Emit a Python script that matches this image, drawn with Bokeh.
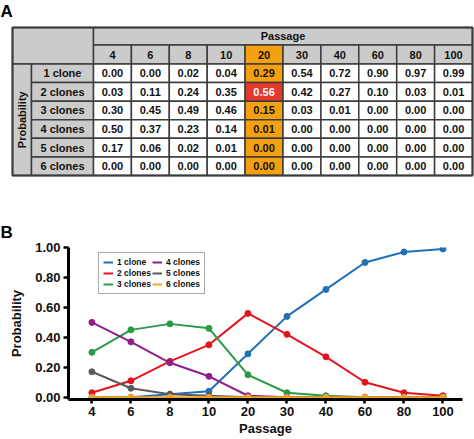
import math
from bokeh.plotting import figure
from bokeh.layouts import column, row
from bokeh.models import Range1d, FixedTicker, Legend, LegendItem, NumeralTickFormatter
from bokeh.core.properties import value
from bokeh.embed import file_html
from bokeh.resources import INLINE

# ---------------- data ----------------
passages = [4, 6, 8, 10, 20, 30, 40, 60, 80, 100]
series_names = ["1 clone", "2 clones", "3 clones", "4 clones", "5 clones", "6 clones"]
clone1 = [0.00, 0.00, 0.02, 0.04, 0.29, 0.54, 0.72, 0.90, 0.97, 0.99]
clone2 = [0.03, 0.11, 0.24, 0.35, 0.56, 0.42, 0.27, 0.10, 0.03, 0.01]
clone3 = [0.30, 0.45, 0.49, 0.46, 0.15, 0.03, 0.01, 0.00, 0.00, 0.00]
clone4 = [0.50, 0.37, 0.23, 0.14, 0.01, 0.00, 0.00, 0.00, 0.00, 0.00]
clone5 = [0.17, 0.06, 0.02, 0.01, 0.00, 0.00, 0.00, 0.00, 0.00, 0.00]
clone6 = [0.00, 0.00, 0.00, 0.00, 0.00, 0.00, 0.00, 0.00, 0.00, 0.00]
series_values = [clone1, clone2, clone3, clone4, clone5, clone6]
series_colors = ["#1f70b4", "#e3141d", "#2a9a47", "#8e1e8c", "#5a5a5a", "#f0a22a"]
highlight_passage = 20
max_row = "2 clones"
y_ticks = [0.0, 0.2, 0.4, 0.6, 0.8, 1.0]

FONT = value("Liberation Sans")
GRAY = "#cbcbcb"
ORANGE = "#f5a00f"
RED = "#e5392d"
BORDER = "#3c3c3c"
TXT = "#111111"

# ---------------- panel A: table ----------------
W, HT = 474, 240
t = figure(width=W, height=HT, x_range=Range1d(0, W), y_range=Range1d(HT, 0),
           output_backend="svg", toolbar_location=None, min_border=0,
           x_axis_location=None, y_axis_location=None)
t.grid.visible = False
t.outline_line_color = None

TL, PC, LC, RC = 12.0, 31.0, 93.0, 472.0
TOP, H1, H2, BOT = 27.0, 44.5, 63.5, 175.0
ncol = len(passages)
nrow = len(series_names)
cw = (RC - LC) / ncol
rh = (BOT - H2) / nrow

L, R, Tp, Bt, F = [], [], [], [], []
def cell(l, r, tp, bt, f):
    L.append(l); R.append(r); Tp.append(tp); Bt.append(bt); F.append(f)

cell(TL, LC, TOP, H2, GRAY)
cell(LC, RC, TOP, H1, GRAY)
cell(TL, PC, H2, BOT, GRAY)
tx, ty, tt, tc = [], [], [], []
for i, p in enumerate(passages):
    cell(LC + i * cw, LC + (i + 1) * cw, H1, H2, ORANGE if p == highlight_passage else GRAY)
    tx.append(LC + (i + 0.5) * cw); ty.append((H1 + H2) / 2); tt.append(str(p)); tc.append(TXT)
for j, name in enumerate(series_names):
    y0 = H2 + j * rh
    cell(PC, LC, y0, y0 + rh, GRAY)
    tx.append((PC + LC) / 2); ty.append(y0 + rh / 2); tt.append(name); tc.append(TXT)
    for i, p in enumerate(passages):
        v = series_values[j][i]
        if p == highlight_passage:
            f = RED if name == max_row else ORANGE
        else:
            f = "white"
        cell(LC + i * cw, LC + (i + 1) * cw, y0, y0 + rh, f)
        tx.append(LC + (i + 0.5) * cw); ty.append(y0 + rh / 2)
        tt.append(f"{v:.2f}"); tc.append("white" if f == RED else TXT)

t.quad(left=L, right=R, top=Tp, bottom=Bt, fill_color=F, line_color=BORDER, line_width=1.5)
t.quad(left=[TL], right=[RC], top=[TOP], bottom=[BOT], fill_color=None, line_color=BORDER, line_width=2)
t.text(x=tx, y=ty, text=tt, text_color=tc, text_font=FONT, text_font_style="bold",
       text_font_size="11px", text_align="center", text_baseline="middle")
t.text(x=[(LC + RC) / 2], y=[(TOP + H1) / 2], text=["Passage"], text_color=TXT, text_font=FONT,
       text_font_style="bold", text_font_size="11px", text_align="center", text_baseline="middle")
t.text(x=[(TL + PC) / 2], y=[(H2 + BOT) / 2], text=["Probability"], text_color=TXT, text_font=FONT,
       text_font_style="bold", text_font_size="11px", text_align="center", text_baseline="middle",
       angle=math.pi / 2)
t.text(x=[0, 0], y=[1, 222], text=["A", "B"], text_color="black", text_font=FONT,
       text_font_style="bold", text_font_size="17px", text_align="left", text_baseline="top")

# ---------------- panel B: chart ----------------
xs = list(range(len(passages)))
c = figure(width=W, height=199, x_range=Range1d(-0.6, 9.5), y_range=Range1d(-0.015, 1.0),
           output_backend="svg", toolbar_location=None,
           min_border_left=68, min_border_right=12, min_border_top=7, min_border_bottom=40)
c.grid.visible = False
c.outline_line_color = None

items = []
for name, vals, col in zip(series_names, series_values, series_colors):
    ln = c.line(xs, vals, line_color=col, line_width=2)
    c.scatter(xs, vals, size=6, color=col)
    items.append(LegendItem(label=name, renderers=[ln]))

for ax in (c.xaxis[0], c.yaxis[0]):
    ax.axis_line_width = 3
    ax.axis_line_color = "black"
    ax.major_tick_line_width = 2.5
    ax.major_tick_in = 0
    ax.major_tick_out = 5
    ax.minor_tick_line_color = None
    ax.major_label_text_font = "Liberation Sans"
    ax.major_label_text_font_style = "bold"
    ax.major_label_text_font_size = "13px"
    ax.major_label_text_color = TXT
    ax.axis_label_text_font = "Liberation Sans"
    ax.axis_label_text_font_style = "bold"
    ax.axis_label_text_font_size = "13px"
    ax.axis_label_text_color = TXT

c.xaxis.ticker = FixedTicker(ticks=xs)
c.xaxis.major_label_overrides = {i: str(p) for i, p in enumerate(passages)}
c.xaxis.major_tick_out = 4
c.xaxis.major_label_standoff = 3
c.xaxis.axis_label = "Passage"
c.xaxis.axis_label_standoff = 2
c.yaxis.ticker = FixedTicker(ticks=y_ticks)
c.yaxis.formatter = NumeralTickFormatter(format="0.00")
c.yaxis.major_label_standoff = 3
c.yaxis.axis_label = "Probability"
c.yaxis.axis_label_standoff = 8

legend = Legend(items=items, location=(30, 105), nrows=3,
                label_text_font="Liberation Sans", label_text_font_style="bold",
                label_text_font_size="8.5px", label_text_color=TXT,
                glyph_width=10, glyph_height=10, label_height=10, label_standoff=4,
                spacing=1, padding=4, margin=0,
                border_line_color="#555555", border_line_width=1.5,
                background_fill_color="white", background_fill_alpha=1)
c.add_layout(legend, "center")

layout = column(row(t), row(c), spacing=0)
open("out.html", "w").write(file_html(layout, INLINE))
